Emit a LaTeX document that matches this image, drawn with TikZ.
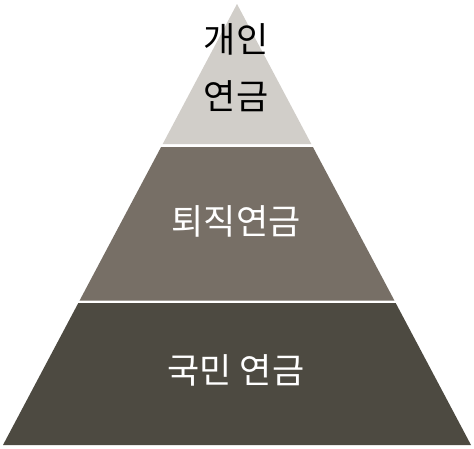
\documentclass[tikz,border=0pt]{standalone}
\usepackage{fontspec}
\newfontfamily\kr{Noto Sans CJK KR}
\definecolor{topc}{HTML}{D1CEC9}
\definecolor{midc}{HTML}{776F66}
\definecolor{botc}{HTML}{4D4A41}
\tikzset{
  label/.style={font=\kr\fontsize{35}{57}\selectfont, align=center, inner sep=0pt},
  layer/.style={draw=none}
}
\begin{document}
\begin{tikzpicture}[x=1pt,y=-1pt]
\useasboundingbox[fill=white] (0,0) rectangle (474,448);
\fill[layer, topc] (237,4) -- (311.3,144) -- (162.7,144) -- cycle;
\fill[layer, midc] (161.1,147) -- (312.9,147) -- (394.4,300.5) -- (79.6,300.5) -- cycle;
\fill[layer, botc] (78.3,303) -- (395.7,303) -- (471,445) -- (3,445) -- cycle;
\node[label, text=black] (top) at (236,68) {개인\\연금};
\node[label, text=white] (mid) at (236,221) {퇴직연금};
\node[label, text=white] (bot) at (236,370) {국민 연금};
\end{tikzpicture}
\end{document}
